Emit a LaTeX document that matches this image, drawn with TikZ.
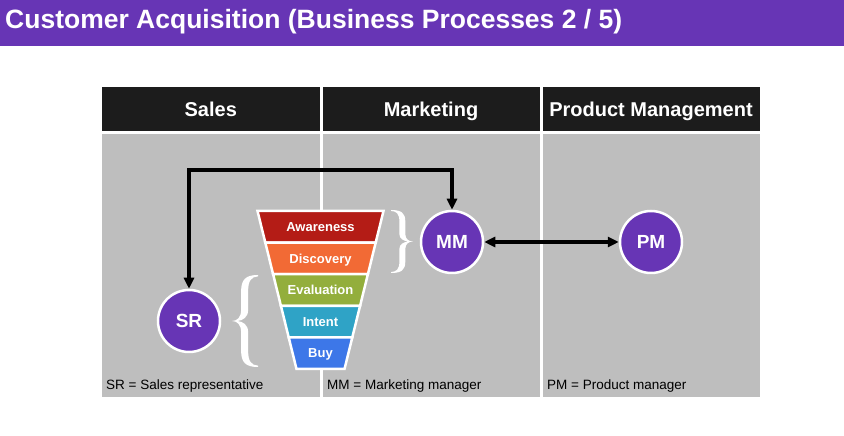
\documentclass[tikz,border=0pt]{standalone}
\usepackage{fontspec}
\setmainfont{Liberation Sans}
\usetikzlibrary{arrows.meta}
\definecolor{purp}{HTML}{6735B5}
\definecolor{hdr}{HTML}{1C1C1C}
\definecolor{body}{HTML}{BEBEBE}
\definecolor{cAw}{HTML}{B41C16}
\definecolor{cDi}{HTML}{F26A35}
\definecolor{cEv}{HTML}{93AE3C}
\definecolor{cIn}{HTML}{2FA3C6}
\definecolor{cBu}{HTML}{3D77E8}
\tikzset{
  hdrtext/.style={text=white, anchor=base, inner sep=0pt, font=\fontsize{20}{24}\selectfont\bfseries},
  foot/.style={anchor=base west, inner sep=0pt, text=black, font=\fontsize{13.5}{16}\selectfont},
  role/.style={circle, fill=purp, draw=white, line width=2.5pt, minimum size=62pt, inner sep=0pt, text=white, font=\fontsize{19}{22}\selectfont\bfseries},
  seg/.style={draw=white, line width=2.5pt, line join=miter},
  seglabel/.style={text=white, anchor=base, inner sep=0pt, font=\fontsize{13}{15}\selectfont\bfseries},
  conn/.style={draw=black, line width=3.2pt, {Triangle[length=11pt,width=10pt]}-{Triangle[length=11pt,width=10pt]}},
  bracel/.pic={
    \fill[white] (1,0.5) .. controls (0.52,0.5) and (0.35,0.45) .. (0.35,0.32) -- (0.35,0.12)
      .. controls (0.35,0.04) and (0.2,0.0) .. (0,0)
      .. controls (0.2,0.0) and (0.35,-0.04) .. (0.35,-0.12) -- (0.35,-0.32)
      .. controls (0.35,-0.45) and (0.52,-0.5) .. (1,-0.5)
      -- (1,-0.485) .. controls (0.74,-0.48) and (0.62,-0.44) .. (0.62,-0.32) -- (0.62,-0.12)
      .. controls (0.62,-0.04) and (0.42,-0.008) .. (0.22,0)
      .. controls (0.42,0.008) and (0.62,0.04) .. (0.62,0.12) -- (0.62,0.32)
      .. controls (0.62,0.44) and (0.74,0.48) .. (1,0.485) -- cycle;
  }
}
\begin{document}
\begin{tikzpicture}[x=1pt,y=1pt]
\useasboundingbox (0,0) rectangle (844,436);
\fill[white] (0,0) rectangle (844,436);
% title bar
\fill[purp] (0,390) rectangle (844,436);
\node[anchor=base west, text=white, inner sep=0pt, font=\fontsize{26.5}{30}\selectfont\bfseries] (title) at (5,407.5) {Customer Acquisition (Business Processes 2 / 5)};
% headers
\fill[hdr] (102,305.3) rectangle (319.5,348.7);
\fill[hdr] (322.5,305.3) rectangle (539.5,348.7);
\fill[hdr] (542.5,305.3) rectangle (759.5,348.7);
\node[hdrtext] (hs) at (210.75,319.5) {Sales};
\node[hdrtext] (hm) at (431,319.5) {Marketing};
\node[hdrtext] (hp) at (651,319.5) {Product Management};
% bodies
\fill[body] (102,38.7) rectangle (319.5,302.3);
\fill[body] (322.5,38.7) rectangle (539.5,302.3);
\fill[body] (542.5,38.7) rectangle (759.5,302.3);
% footers
\node[foot] (fs) at (106,46) {SR = Sales representative};
\node[foot] (fm) at (327,46) {MM = Marketing manager};
\node[foot] (fp) at (547,46) {PM = Product manager};
% funnel
\filldraw[seg, fill=cAw] (257.5,225) -- (383.5,225) -- (375.7,193.4) -- (265.3,193.4) -- cycle;
\filldraw[seg, fill=cDi] (265.3,193.4) -- (375.7,193.4) -- (367.9,161.8) -- (273.1,161.8) -- cycle;
\filldraw[seg, fill=cEv] (273.1,161.8) -- (367.9,161.8) -- (360.1,130.2) -- (280.9,130.2) -- cycle;
\filldraw[seg, fill=cIn] (280.9,130.2) -- (360.1,130.2) -- (352.3,98.6) -- (288.7,98.6) -- cycle;
\filldraw[seg, fill=cBu] (288.7,98.6) -- (352.3,98.6) -- (344.5,67) -- (296.5,67) -- cycle;
\node[seglabel] (aw) at (320.5,204.5) {Awareness};
\node[seglabel] (di) at (320.5,172.9) {Discovery};
\node[seglabel] (ev) at (320.5,141.3) {Evaluation};
\node[seglabel] (in) at (320.5,109.7) {Intent};
\node[seglabel] (bu) at (320.5,78.1) {Buy};
% braces
\pic[xscale=-22, yscale=63] at (413,194.5) {bracel};
\pic[xscale=26, yscale=92] at (232,115) {bracel};
% roles
\node[role] (SR) at (189,115) {SR};
\node[role] (MM) at (452,194) {MM};
\node[role] (PM) at (651,194) {PM};
\coordinate (top) at (320,266);
\draw[conn] (SR.north) |- (top) -| (MM.north);
\draw[conn] (MM.east) -- (PM.west);
\end{tikzpicture}
\end{document}
